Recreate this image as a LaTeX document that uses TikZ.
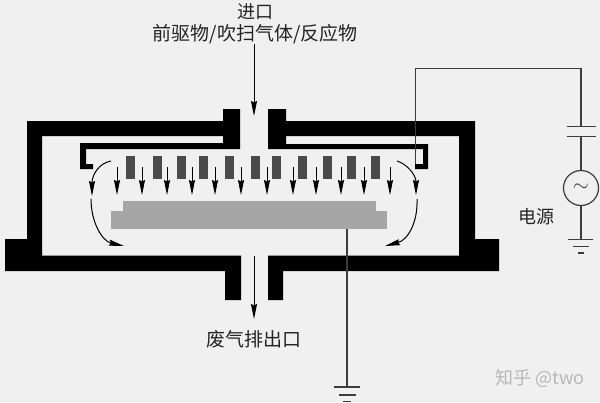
\documentclass[tikz,border=0pt]{standalone}
\usepackage{xcolor}
\usepackage{fontspec}
\usepackage{tikz}
\usetikzlibrary{arrows.meta}
\setmainfont{Liberation Serif}
\newfontfamily\cjkfont{Noto Sans CJK SC}
\definecolor{pagegray}{RGB}{240,240,240}
\definecolor{nozzlegray}{RGB}{74,74,74}
\definecolor{wafergray}{RGB}{166,166,166}
\definecolor{wiregray}{RGB}{60,60,60}
\definecolor{inkgray}{RGB}{35,35,35}

\begin{document}
\begin{tikzpicture}[
        x=1pt, y=-1pt,
        wall/.style={fill=black, draw=none},
        nozzle/.style={rectangle, fill=nozzlegray, inner sep=0pt, outer sep=0pt, minimum width=9pt, minimum height=23pt},
        wafer/.style={rectangle, fill=wafergray, inner sep=0pt, outer sep=0pt},
        flow/.style={-{Stealth[length=15pt, width=6pt, inset=1.5pt]}, line width=1pt, color=black},
        wire/.style={line width=1.2pt, color=wiregray},
        label/.style={text=inkgray, inner sep=0pt, font=\cjkfont\fontsize{18}{20}\selectfont}
    ]
        % Page
        \useasboundingbox (0,0) rectangle (600,402);
        \fill[pagegray] (0,0) rectangle (600,402);

        % Left half of the chamber wall with the showerhead plate
        \fill[wall] (27,121) -- (223,121) -- (223,109) -- (240,109) -- (240,149) -- (86,149)
            -- (86,164) -- (93,164) -- (93,169) -- (80,169) -- (80,143) -- (223,143)
            -- (223,136) -- (42,136) -- (42,255.5) -- (241,255.5) -- (241,300) -- (225,300)
            -- (225,271) -- (5,271) -- (5,239) -- (27,239) -- cycle;

        % Right half of the chamber wall with the showerhead plate
        \fill[wall] (268,109) -- (286,109) -- (286,121) -- (475,121) -- (475,239) -- (499,239)
            -- (499,271) -- (283,271) -- (283,300) -- (268,300) -- (268,255.5) -- (459,255.5)
            -- (459,136) -- (286,136) -- (286,144) -- (428,144) -- (428,169) -- (415,169)
            -- (415,164) -- (423,164) -- (423,149) -- (268,149) -- cycle;

        % Showerhead openings
        \node[nozzle] (n1) at (130.5,167.5) {};
        \node[nozzle] (n2) at (157.5,167.5) {};
        \node[nozzle] (n3) at (181.5,167.5) {};
        \node[nozzle] (n4) at (203.5,167.5) {};
        \node[nozzle] (n5) at (229.5,167.5) {};
        \node[nozzle] (n6) at (255.5,167.5) {};
        \node[nozzle] (n7) at (276.5,167.5) {};
        \node[nozzle] (n8) at (302.5,167.5) {};
        \node[nozzle] (n9) at (327.5,167.5) {};
        \node[nozzle] (n10) at (351.5,167.5) {};
        \node[nozzle] (n11) at (375.5,167.5) {};

        % Wafer on its stage
        \node[wafer, minimum width=253pt, minimum height=12pt] (waferTop) at (249.5,207) {};
        \node[wafer, minimum width=276pt, minimum height=18pt] (stage) at (249,220) {};

        % Gas flow through the showerhead
        \draw[flow] (117,167) -- (117,195);
        \draw[flow] (142,167) -- (142,195);
        \draw[flow] (167,167) -- (167,195);
        \draw[flow] (192,167) -- (192,195);
        \draw[flow] (215,167) -- (215,195);
        \draw[flow] (241,167) -- (241,195);
        \draw[flow] (267,167) -- (267,195);
        \draw[flow] (293,167) -- (293,195);
        \draw[flow] (316,167) -- (316,195);
        \draw[flow] (341,167) -- (341,195);
        \draw[flow] (364,167) -- (364,195);
        \draw[flow] (390,167) -- (390,195);

        % Curved flow round the wafer
        \draw[flow] (111,161) .. controls (99,163) and (92,175) .. (92,196);
        \draw[flow] (91,199) .. controls (91,222) and (102,241) .. (124,246);
        \draw[flow] (397,161) .. controls (407,164) and (416,175) .. (416,195);
        \draw[flow] (417,199) .. controls (418,222) and (408,240) .. (385,246);

        % Inlet and exhaust
        \coordinate (inletTop) at (254,44);
        \coordinate (inletEnd) at (254,116);
        \coordinate (exhaustTop) at (254,256);
        \coordinate (exhaustEnd) at (254,319);
        \draw[flow] (inletTop) -- (inletEnd);
        \draw[flow] (exhaustTop) -- (exhaustEnd);

        % Power source branch
        \coordinate (lip) at (415.5,164);
        \coordinate (cornerL) at (415.5,68.5);
        \coordinate (cornerR) at (581,68.5);
        \coordinate (capTop) at (581,126.5);
        \coordinate (capBot) at (581,136.5);
        \coordinate (groundR) at (581,239.5);
        \node[circle, draw=wiregray, line width=1.2pt, fill=pagegray, minimum size=35pt, inner sep=0pt,
              text=wiregray, font=\fontsize{20}{20}\selectfont] (source) at (581,188) {$\sim$};
        \draw[wire] (lip) -- (cornerL) -- (cornerR) -- (capTop);
        \draw[wire] (capBot) -- (source);
        \draw[wire] (source) -- (groundR);
        \draw[wire] (567,126.5) -- (596,126.5);
        \draw[wire] (567,136.5) -- (596,136.5);
        \draw[wire] (568,239.5) -- (593,239.5);
        \draw[wire] (573,246.5) -- (589,246.5);
        \draw[wire] (578,253) -- (584,253);

        % Stage ground
        \coordinate (groundS) at (347,387);
        \draw[wire] (347,229) -- (groundS);
        \draw[wire] (334,387) -- (360,387);
        \draw[wire] (339,395) -- (356,395);
        \draw[wire] (343,401.5) -- (351,401.5);

        % Labels
        \node[label] (inlet) at (255,12) {进口};
        \node[label, font=\cjkfont\fontsize{19}{21}\selectfont] (gases) at (255,34) {前驱物/吹扫气体/反应物};
        \node[label, font=\cjkfont\fontsize{19}{21}\selectfont] (exhaust) at (254,339) {废气排出口};
        \node[label] (power) at (536,217) {电源};
        \node[label, text=black!28, font=\cjkfont\fontsize{18}{20}\selectfont] (mark) at (540,378) {知乎 @two};
    \end{tikzpicture}
\end{document}
